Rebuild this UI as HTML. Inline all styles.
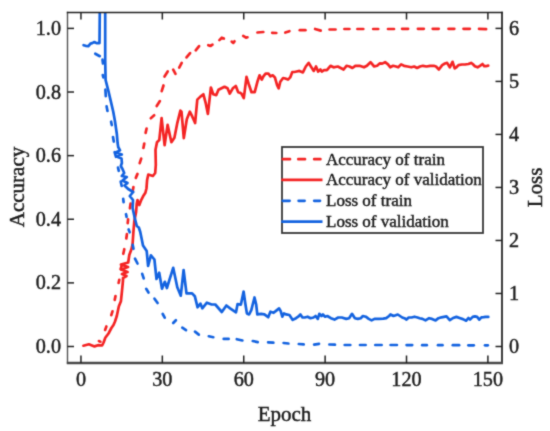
<!DOCTYPE html>
<html><head><meta charset="utf-8"><style>
html,body{margin:0;padding:0;background:#fff;width:550px;height:431px;overflow:hidden}
svg{display:block}
text{font-family:"Liberation Serif","Times New Roman",serif;fill:#1a1a1a;stroke:#1a1a1a;stroke-width:0.45px}
</style></head><body>
<svg width="550" height="431" viewBox="0 0 550 431">
<defs>
<filter id="bl" color-interpolation-filters="sRGB" filterUnits="userSpaceOnUse" x="0" y="0" width="550" height="431"><feConvolveMatrix order="3" kernelMatrix="1 5 1 5 22 5 1 5 1" preserveAlpha="false"/></filter>
<filter id="tb" color-interpolation-filters="sRGB" filterUnits="userSpaceOnUse" x="0" y="0" width="550" height="431"><feConvolveMatrix order="3" kernelMatrix="1 2 1 2 12 2 1 2 1" preserveAlpha="false"/></filter>
<clipPath id="c"><rect x="67.5" y="12.5" width="434.5" height="350.5"/></clipPath>
</defs>
<g filter="url(#bl)">
<rect width="550" height="431" fill="#fff"/>
<g clip-path="url(#c)" fill="none" stroke-width="2.7" stroke-linejoin="round">
<g stroke="#f42424" fill="none" stroke-linecap="round" stroke-linejoin="round"><polyline points="98.9,341.1 100.4,341.7"/><polyline points="105.1,329.9 106.4,326.5"/><polyline points="111.3,315.2 112.5,311.3"/><polyline points="114.7,299.9 115.5,296.1"/><polyline points="118.6,283.0 119.3,279.8"/><polyline points="120.6,269.2 122.1,264.4"/><polyline points="123.3,253.8 124.3,249.2"/><polyline points="126.3,238.5 126.9,234.2"/><polyline points="127.7,223.2 128.1,219.3"/><polyline points="129.9,208.3 130.6,203.7"/><polyline points="132.7,191.0 133.4,187.2"/><polyline points="135.8,177.9 137.5,173.9"/><polyline points="139.7,163.2 141.2,158.6"/><polyline points="143.4,148.0 144.3,143.6"/><polyline points="145.6,132.9 146.6,128.5"/><polyline points="150.8,118.2 154.2,115.3"/><polyline points="156.7,106.1 159.9,101.1"/><polyline points="161.7,91.2 163.5,85.5"/><polyline points="164.5,76.5 167.7,71.5"/><polyline points="173.2,69.7 175.5,73.8"/><polyline points="179.2,67.6 181.7,62.9"/><polyline points="186.5,57.4 190.1,53.1"/><polyline points="195.7,50.3 199.1,46.1"/><polyline points="208.3,45.2 210.4,46.0 212.5,44.7"/><polyline points="219.4,40.1 221.8,37.7 223.9,38.5"/><polyline points="231.7,41.6 233.3,42.8 234.5,41.3"/><polyline points="243.2,35.9 246.0,37.7 247.5,37.3"/><polyline points="257.4,32.5 263.3,32.0"/><polyline points="272.2,32.9 276.3,33.0"/><polyline points="285.3,32.5 289.4,31.2"/><polyline points="299.8,30.2 305.4,30.2"/><polyline points="315.1,29.0 320.7,30.6"/><polyline points="329.6,29.5 335.5,29.5"/><polyline points="344.4,29.0 349.4,29.0"/><polyline points="357.4,29.0 363.3,29.0"/><polyline points="373.2,29.0 378.2,29.0"/><polyline points="388.0,29.0 394.0,29.0"/><polyline points="402.1,28.8 408.1,28.8"/><polyline points="417.9,28.8 423.8,28.8"/><polyline points="432.7,28.8 438.7,28.8"/><polyline points="448.5,28.8 454.3,28.8"/><polyline points="463.5,28.8 469.8,28.8"/><polyline points="479.0,28.9 486.1,29.1"/></g>
<polyline points="83.4,345.7 88.9,344.3 94.5,346.4 98.0,345.2 102.1,345.5 103.6,342.5 105.3,337.8 108.5,333.5 111.4,328.0 113.5,325.0 115.0,321.5 116.8,316.0 118.8,306.5 120.9,301.3 122.0,290.9 123.0,280.4 123.0,278.0 126.5,276.0 122.0,274.0 127.5,272.0 121.2,269.5 128.0,267.0 121.0,264.5 128.2,262.5 129.3,255.0 131.5,249.0 132.6,244.0 133.4,232.0 134.3,221.2 136.1,212.0 136.7,204.0 137.5,200.0 139.3,205.0 141.3,199.8 143.1,196.3 145.4,192.8 146.5,188.2 147.1,180.0 148.3,174.5 152.9,176.0 155.2,173.0 155.8,165.0 155.5,149.8 157.0,142.2 159.3,140.0 161.6,118.1 164.6,145.2 167.6,124.9 171.4,142.2 174.4,137.7 177.4,122.6 180.4,110.6 181.5,111.7 183.8,138.1 186.8,119.2 189.8,111.7 192.1,116.2 195.1,123.0 197.3,99.6 200.4,96.6 203.4,94.3 205.6,102.6 207.9,113.9 210.9,87.5 213.2,94.3 216.2,95.1 218.5,89.8 221.5,88.3 224.5,86.8 227.5,88.3 229.8,93.6 232.8,88.3 235.8,86.0 238.1,92.1 240.0,92.7 241.6,93.8 243.8,98.2 246.5,76.9 248.7,84.0 251.5,92.2 254.7,92.2 257.4,81.8 259.6,75.3 261.8,79.6 263.4,76.4 265.6,73.6 268.4,73.6 270.5,76.4 272.7,75.3 274.9,77.4 277.1,85.1 278.7,88.4 280.3,81.8 283.1,78.0 285.3,78.5 288.0,79.6 290.2,77.4 292.3,72.0 294.5,72.0 296.7,71.5 299.4,70.9 302.9,72.4 305.8,66.5 308.7,62.9 310.9,66.5 313.8,70.9 316.0,66.5 318.2,71.6 320.4,69.5 321.8,71.6 324.0,70.2 326.9,70.2 330.5,65.8 333.5,67.3 337.8,66.5 340.7,68.0 343.6,69.5 346.5,65.8 349.5,66.5 352.4,68.0 355.3,65.8 359.6,65.8 364.0,67.3 366.9,65.8 370.5,62.2 374.2,66.5 377.1,65.8 380.0,63.3 382.2,63.6 385.1,62.2 388.0,64.4 390.2,67.3 393.1,65.8 396.0,66.5 398.2,67.3 401.1,64.4 404.0,65.8 407.6,66.5 411.3,67.3 414.2,66.5 417.1,68.0 420.0,66.5 422.9,65.8 426.5,66.5 430.2,65.8 433.8,65.8 436.0,66.5 438.9,69.5 442.2,65.1 444.9,63.5 447.1,62.9 449.8,67.3 452.5,61.8 454.7,68.4 456.4,67.3 458.5,65.1 461.8,64.5 465.1,64.5 468.4,64.0 471.1,62.9 472.7,64.0 474.9,66.2 477.6,67.3 480.3,65.6 482.5,64.0 484.2,66.2 485.8,66.2 488.2,65.6" stroke="#f42424" stroke-linecap="round"/>
<g stroke="#1463e0" fill="none" stroke-linecap="round" stroke-linejoin="round"><polyline points="95.3,53.7 99.8,56.2"/><polyline points="102.5,59.7 103.0,63.5"/><polyline points="102.8,75.1 103.4,77.4"/><polyline points="105.4,89.6 105.8,96.1"/><polyline points="106.6,106.4 107.5,111.0"/><polyline points="111.1,121.7 111.8,125.1"/><polyline points="113.0,137.0 113.8,141.6"/><polyline points="114.6,152.2 116.0,156.8"/><polyline points="118.0,167.6 118.8,170.8"/><polyline points="120.7,181.5 121.7,186.0"/><polyline points="123.2,198.9 123.6,202.2"/><polyline points="126.0,214.2 126.6,216.9"/><polyline points="128.6,229.4 129.7,232.3"/><polyline points="132.7,244.9 133.5,248.8"/><polyline points="135.0,258.7 137.5,263.5"/><polyline points="142.2,273.8 143.7,278.4"/><polyline points="146.2,288.8 148.5,292.5"/><polyline points="154.5,298.7 157.6,303.0"/><polyline points="162.7,314.0 164.7,317.7"/><polyline points="173.2,323.0 175.9,320.2"/><polyline points="182.3,327.7 186.0,330.2"/><polyline points="195.0,331.6 198.8,334.6"/><polyline points="208.8,336.3 213.3,337.2"/><polyline points="223.7,338.9 228.6,338.9"/><polyline points="236.8,339.2 242.4,340.5"/><polyline points="252.8,341.0 257.7,342.1"/><polyline points="268.1,342.4 273.4,342.7"/><polyline points="283.6,343.0 288.4,343.5"/><polyline points="298.8,344.0 303.7,344.3"/><polyline points="314.1,344.6 319.0,343.8"/><polyline points="329.4,344.5 335.0,344.7"/><polyline points="344.7,345.0 350.3,345.0"/><polyline points="360.0,345.0 365.6,345.0"/><polyline points="375.3,345.0 381.6,345.0"/><polyline points="390.6,345.0 396.9,345.0"/><polyline points="406.6,345.1 412.2,345.1"/><polyline points="422.2,345.2 426.8,345.2"/><polyline points="438.0,345.2 442.5,345.2"/><polyline points="452.8,345.2 459.1,345.2"/><polyline points="468.4,345.3 473.8,345.3"/><polyline points="485.0,345.3 487.8,345.3"/></g>
<polyline points="83.6,45.2 85.6,45.8 88.4,46.2 90.5,43.6 92.2,43.1 94.4,42.0 96.5,43.1 99.5,43.1 99.9,0.0" stroke="#1463e0" stroke-linecap="round"/>
<polyline points="105.2,0.0 105.2,60.0 105.6,80.0 108.0,89.3 110.6,100.4 113.2,111.5 114.9,120.7 116.8,133.7 117.6,143.0 118.2,147.0 120.0,150.4 115.6,152.5 121.8,154.5 116.5,156.5 121.5,158.4 121.9,163.0 120.8,166.0 122.5,169.0 124.2,173.0 121.8,176.0 126.8,177.0 122.5,180.5 127.5,183.0 124.5,185.5 128.2,189.0 133.2,192.0 129.8,196.0 133.0,200.0 132.6,208.0 134.7,217.8 136.8,226.0 138.8,227.5 140.2,231.7 141.6,238.6 143.0,245.5 146.7,251.1 148.1,265.8 150.9,255.3 154.4,259.5 156.5,279.0 159.2,272.7 162.0,288.7 164.8,281.8 166.9,288.0 173.2,267.8 177.3,287.3 180.8,295.7 183.6,270.0 186.5,293.4 192.1,293.4 194.8,296.2 197.6,307.3 200.4,303.6 202.3,308.3 206.9,302.7 211.6,304.5 215.3,304.5 221.8,312.0 226.4,305.5 230.1,308.3 236.0,312.3 237.6,304.1 240.9,304.6 243.6,291.5 245.3,303.5 246.9,313.4 249.1,314.4 251.3,310.1 254.5,297.5 256.2,304.6 257.3,314.4 261.1,313.9 264.4,314.4 268.2,317.2 270.4,311.7 273.6,312.8 276.3,310.6 279.1,308.4 280.7,311.2 282.3,316.6 284.0,313.4 286.2,314.4 289.4,315.0 292.7,319.9 296.0,318.2 298.2,316.7 300.4,314.5 302.5,317.5 304.7,317.5 307.6,316.7 310.5,318.2 313.5,317.5 315.6,316.0 317.8,318.9 319.3,313.8 321.5,316.0 322.9,314.5 325.1,316.7 327.3,316.0 330.9,318.2 334.5,319.6 338.2,317.5 341.8,317.5 346.2,318.9 349.1,318.2 352.0,313.8 354.9,318.2 357.8,318.9 360.7,318.2 362.9,316.0 365.8,316.7 368.7,318.9 371.6,320.4 374.5,318.9 376.0,318.9 378.9,318.9 383.3,318.6 386.2,318.2 389.1,316.0 390.5,314.5 393.5,316.0 395.6,315.3 397.8,314.5 400.0,316.0 402.2,317.5 404.4,318.2 406.5,319.6 408.7,317.5 411.6,317.5 414.5,316.7 417.5,317.5 419.6,318.2 422.5,318.9 425.5,320.4 429.1,318.2 432.0,318.9 435.6,320.4 438.5,318.2 441.5,317.3 446.5,316.4 449.8,320.2 453.1,318.0 456.4,316.9 459.6,318.0 462.9,319.1 466.2,320.7 468.4,318.0 470.0,319.6 472.7,316.9 474.9,316.4 477.1,316.9 479.3,319.6 481.4,317.4 483.6,317.2 485.8,316.9 488.3,316.9" stroke="#1463e0" stroke-linecap="round"/>
</g>
<g stroke="#222" stroke-width="1.5" fill="none">
<line x1="67.5" y1="11.7" x2="67.5" y2="363.8" stroke-width="1.4" stroke="#555"/><line x1="502.0" y1="11.7" x2="502.0" y2="363.8" stroke-width="1.75"/><line x1="66.8" y1="12.5" x2="502.9" y2="12.5" stroke-width="1.6"/><line x1="66.8" y1="363.0" x2="502.9" y2="363.0" stroke-width="2.4" stroke="#484848"/>
<line x1="80.95" y1="363.0" x2="80.95" y2="355.5"/><line x1="80.95" y1="12.5" x2="80.95" y2="19.5"/><line x1="162.34" y1="363.0" x2="162.34" y2="355.5"/><line x1="162.34" y1="12.5" x2="162.34" y2="19.5"/><line x1="243.73" y1="363.0" x2="243.73" y2="355.5"/><line x1="243.73" y1="12.5" x2="243.73" y2="19.5"/><line x1="325.12" y1="363.0" x2="325.12" y2="355.5"/><line x1="325.12" y1="12.5" x2="325.12" y2="19.5"/><line x1="406.51" y1="363.0" x2="406.51" y2="355.5"/><line x1="406.51" y1="12.5" x2="406.51" y2="19.5"/><line x1="487.90" y1="363.0" x2="487.90" y2="355.5"/><line x1="487.90" y1="12.5" x2="487.90" y2="19.5"/><line x1="67.5" y1="346.50" x2="74.0" y2="346.50"/><line x1="67.5" y1="282.88" x2="74.0" y2="282.88"/><line x1="67.5" y1="219.26" x2="74.0" y2="219.26"/><line x1="67.5" y1="155.64" x2="74.0" y2="155.64"/><line x1="67.5" y1="92.02" x2="74.0" y2="92.02"/><line x1="67.5" y1="28.40" x2="74.0" y2="28.40"/><line x1="502.0" y1="346.50" x2="495.5" y2="346.50"/><line x1="502.0" y1="293.48" x2="495.5" y2="293.48"/><line x1="502.0" y1="240.47" x2="495.5" y2="240.47"/><line x1="502.0" y1="187.45" x2="495.5" y2="187.45"/><line x1="502.0" y1="134.43" x2="495.5" y2="134.43"/><line x1="502.0" y1="81.42" x2="495.5" y2="81.42"/><line x1="502.0" y1="28.40" x2="495.5" y2="28.40"/>
</g>
<rect x="282" y="147" width="201" height="86" fill="#fff" stroke="#383838" stroke-width="1.8"/>
<g stroke-width="2.7" fill="none">
<path d="M282.8 159.2H290M298.3 159.2H305M314.2 159.2H320.4" stroke="#f42424" stroke-linecap="round"/>
<line x1="281.3" y1="179.9" x2="322.5" y2="179.9" stroke="#f42424"/>
<path d="M282.8 200.8H289.6M298.6 200.8H304.6M314.2 200.8H320" stroke="#1463e0" stroke-linecap="round"/>
<line x1="281.3" y1="221.6" x2="322.5" y2="221.6" stroke="#1463e0"/>
</g>
</g>
<g filter="url(#tb)">
<g font-size="20.2">
<text x="80.95" y="385.5" text-anchor="middle">0</text><text x="162.34" y="385.5" text-anchor="middle">30</text><text x="243.73" y="385.5" text-anchor="middle">60</text><text x="325.12" y="385.5" text-anchor="middle">90</text><text x="406.51" y="385.5" text-anchor="middle">120</text><text x="487.90" y="385.5" text-anchor="middle">150</text><text x="61" y="353.00" text-anchor="end">0.0</text><text x="61" y="289.38" text-anchor="end">0.2</text><text x="61" y="225.76" text-anchor="end">0.4</text><text x="61" y="162.14" text-anchor="end">0.6</text><text x="61" y="98.52" text-anchor="end">0.8</text><text x="61" y="34.90" text-anchor="end">1.0</text><text x="509" y="353.00" text-anchor="start">0</text><text x="509" y="299.98" text-anchor="start">1</text><text x="509" y="246.97" text-anchor="start">2</text><text x="509" y="193.95" text-anchor="start">3</text><text x="509" y="140.93" text-anchor="start">4</text><text x="509" y="87.92" text-anchor="start">5</text><text x="509" y="34.90" text-anchor="start">6</text>
</g>
<text font-size="21" transform="translate(23.6,187) rotate(-90)" text-anchor="middle">Accuracy</text>
<text font-size="21" transform="translate(541.6,187.5) rotate(-90)" text-anchor="middle">Loss</text>
<text font-size="21" x="284.5" y="420.5" text-anchor="middle">Epoch</text>
<g font-size="17">
<text x="326" y="164.5">Accuracy of train</text>
<text x="326" y="185.3">Accuracy of validation</text>
<text x="326" y="206">Loss of train</text>
<text x="326" y="226.7">Loss of validation</text>
</g>
</g>
</svg>
</body></html>
